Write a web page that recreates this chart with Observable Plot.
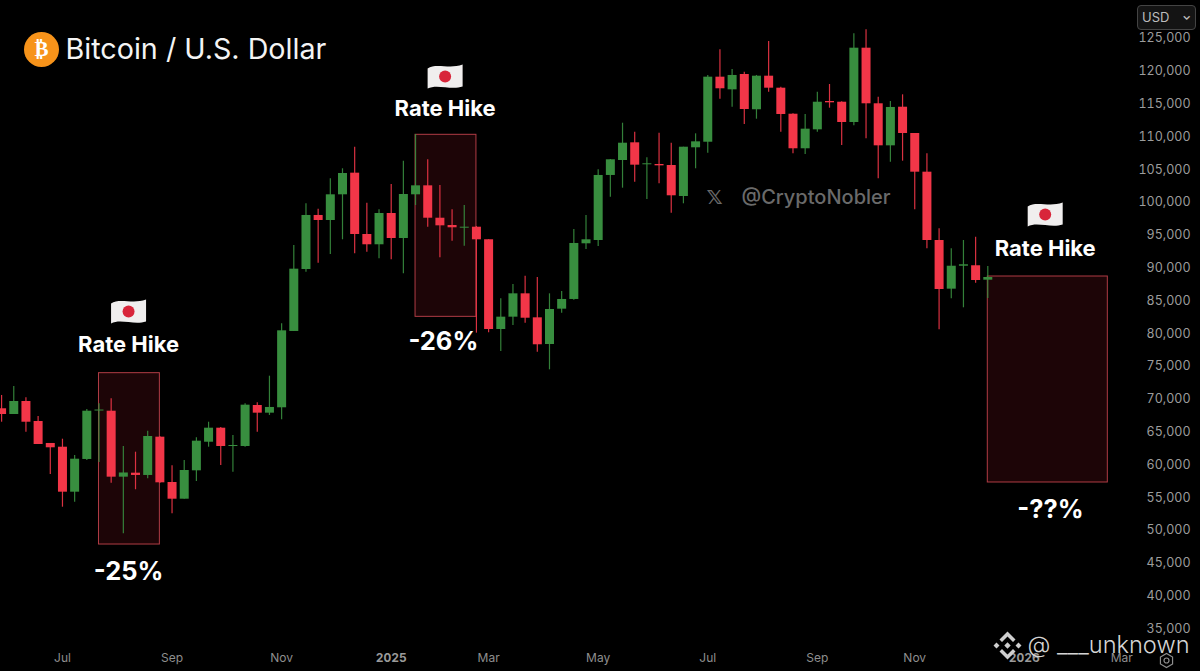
<!DOCTYPE html>
<html>
<head>
<meta charset="utf-8">
<script src="https://cdn.jsdelivr.net/npm/d3@7"></script>
<script src="https://cdn.jsdelivr.net/npm/@observablehq/plot@0.6"></script>
<style>
html,body{margin:0;padding:0;background:#000;overflow:hidden}
#wrap{position:relative;width:1200px;height:671px;background:#000}
#wrap svg{display:block;background:#000}
#usd{position:absolute;left:1137px;top:5px;width:59px;height:25px;box-sizing:border-box;background:#141414;border:1px solid #444;border-radius:4px;color:#bdbdbd;font:13px Inter,sans-serif;line-height:23px;padding-left:4px}
#usd span{position:absolute;right:4px;top:-1px;font-size:11px;font-weight:700}
</style>
</head>
<body>
<div id="wrap"><div id="usd">USD<span>⌄</span></div></div>
<script>
const openPrices = [68380,67510,69490,66440,63090,62520,55660,60650,68040,68010,57950,58560,58210,64050,57140,54590,58920,63280,65420,62630,62630,68880,67710,68530,80170,89620,97860,97090,101010,104310,94960,93390,98160,94350,101010,102380,97440,96330,95920,96070,94150,80470,82350,85910,82250,78180,83570,85050,93540,94040,103960,106240,108940,105590,105630,105480,100750,108180,109030,118950,117020,119360,113980,119100,117270,113300,108030,110920,115240,115130,112040,123370,114890,108480,114370,110360,104460,94040,86620,90120,90190,87990];
const closePrices = [67510,69490,66330,62930,62430,55660,60690,68010,68190,57950,58590,58210,64150,57090,54590,58970,63440,65420,62630,62780,68930,67710,68580,80270,89670,97860,97090,101010,104260,94960,93390,98160,94350,101060,102380,97440,96280,95980,96070,94150,80470,82350,85910,82190,78140,83520,85050,93590,94150,103960,106350,108880,105530,105740,105430,100860,108270,109090,118950,117180,119210,114020,119100,117270,113260,108030,111020,115130,115040,112040,123370,114890,108480,114330,110360,104460,94040,86570,90120,90340,87940,88400];
const highPrices = [70410,71780,70050,67200,63090,63740,61260,68270,69140,69900,62630,61760,64960,64150,59680,60490,63950,66330,65530,64310,69140,69290,73350,81340,93280,99640,98820,103450,104980,108270,99730,98730,102580,106140,110210,106350,102430,98730,99380,96180,94150,85150,87330,88600,88400,85910,86270,95720,97860,104820,106400,111930,110560,106650,110410,108880,108270,110310,119210,123120,120120,119710,119210,124390,117420,113360,113260,116660,117830,115190,125560,126170,115900,115240,116260,110360,107270,95830,92780,94040,94550,90080];
const lowPrices = [66330,67510,64810,62930,58360,53370,54130,60490,60190,57030,49320,56030,57700,56990,52360,54590,57290,62520,59730,58710,62520,64810,67360,66700,80170,89210,90580,91910,94150,92020,92260,91250,91100,88960,99380,96070,91410,93940,93170,79910,79970,77120,81080,81430,77010,74320,82960,84940,92670,93130,100650,102020,102930,100300,102690,98210,99640,104980,107360,115590,114370,111730,112540,116660,110560,107270,107160,110560,114220,108530,111530,109550,103450,105980,106140,98730,92780,80430,85150,83780,87530,85200];

const weeks = d3.utcMonday.range(new Date("2024-05-27"), new Date("2025-12-16"));
const candles = weeks.map((date, i) => ({date, open: openPrices[i], close: closePrices[i], high: highPrices[i], low: lowPrices[i]}));

const priceTicks = [35000,40000,45000,50000,55000,60000,65000,70000,75000,80000,85000,90000,95000,100000,105000,110000,115000,120000,125000];
const monthTicks = ["2024-07-01","2024-09-02","2024-11-04","2025-03-03","2025-05-05","2025-07-07","2025-09-08","2025-11-03","2026-03-02"].map(d => new Date(d));
const yearTicks = ["2025-01-06","2026-01-05"].map(d => new Date(d));

const hikeBoxes = [
  {x1: new Date("2024-07-22"), x2: new Date("2024-08-26"), top: 73810, bottom: 47680},
  {x1: new Date("2025-01-20"), x2: new Date("2025-02-24"), top: 110160, bottom: 82400},
  {x1: new Date("2025-12-15"), x2: new Date("2026-02-22"), top: 88550, bottom: 57140}
];
const hikeLabels = [
  {date: new Date("2024-08-08"), price: 78180},
  {date: new Date("2025-02-06"), price: 114170},
  {date: new Date("2026-01-17"), price: 92820}
];
const flags = [
  {date: new Date("2024-08-08"), price: 83215},
  {date: new Date("2025-02-06"), price: 119050},
  {date: new Date("2026-01-17"), price: 98010}
];
const drops = [
  {date: new Date("2024-08-08"), price: 43570, text: "-25%"},
  {date: new Date("2025-02-05"), price: 78640, text: "-26%"},
  {date: new Date("2026-01-20"), price: 53020, text: "-??%"}
];

const GREEN = "#388e3f", RED = "#f23648", FONT = "Inter, sans-serif";

const flagShape = {draw(c) {
  c.moveTo(-17.5, -8);
  c.bezierCurveTo(-9, -14, 4, -7, 17.5, -12);
  c.lineTo(17.5, 10);
  c.bezierCurveTo(6, 14, -8, 7, -17.5, 12);
  c.closePath();
}};
const binanceShape = {draw(c) {
  const d = (x, y, r) => { c.moveTo(x, y - r); c.lineTo(x + r, y); c.lineTo(x, y + r); c.lineTo(x - r, y); c.closePath(); };
  d(0, 0, 3.2); d(-11, 0, 3); d(11, 0, 3);
  const chev = (s) => {
    c.moveTo(0, s * 14); c.lineTo(s * 8, s * 6); c.lineTo(s * 5.5, s * 3.5); c.lineTo(0, s * 9); c.lineTo(-s * 5.5, s * 3.5); c.lineTo(-s * 8, s * 6); c.closePath();
  };
  chev(1); chev(-1);
}};
const hexShape = {draw(c) {
  const r = 7;
  for (let i = 0; i < 6; i++) {
    const a = Math.PI / 3 * i + Math.PI / 6 ;
    const x = r * Math.cos(a), y = r * Math.sin(a);
    i ? c.lineTo(x, y) : c.moveTo(x, y);
  }
  c.closePath();
  c.moveTo(2.5, 0); c.arc(0, 0, 2.5, 0, 2 * Math.PI);
}};

const isUp = d => d.close >= d.open;

const chart = Plot.plot({
  width: 1200, height: 671,
  marginTop: 0, marginLeft: 0, marginRight: 10, marginBottom: 30,
  style: {background: "#000", fontFamily: FONT, overflow: "hidden"},
  x: {type: "utc", domain: [new Date("2024-05-26T09:00Z"), new Date("2026-04-10T13:00Z")]},
  y: {domain: [32890, 130642]},
  marks: [
    Plot.rect(hikeBoxes, {x1: "x1", x2: "x2", y1: "bottom", y2: "top", fill: "#1d0507", stroke: "#b03c45", strokeWidth: 1}),
    Plot.ruleX(candles, {x: "date", y1: "low", y2: "high", stroke: d => isUp(d) ? GREEN : RED, strokeWidth: 1.2, strokeOpacity: 0.9}),
    Plot.ruleX(candles, {x: "date", y1: "open", y2: "close", stroke: d => isUp(d) ? GREEN : RED, strokeWidth: 9}),
    Plot.axisY({anchor: "right", ticks: priceTicks, tickSize: 0, tickPadding: 0, textAnchor: "end", tickFormat: d3.format(","), label: null, fill: "#9c9c9c", fontSize: 12.5, fontFamily: FONT, dy: 1}),
    Plot.axisX({anchor: "bottom", ticks: monthTicks, tickSize: 0, tickPadding: 12, tickFormat: d3.utcFormat("%b"), label: null, fill: "#8e8e8e", fontSize: 12, fontFamily: FONT}),
    Plot.axisX({anchor: "bottom", ticks: yearTicks, tickSize: 0, tickPadding: 12, tickFormat: d3.utcFormat("%Y"), label: null, fill: "#9a9a9a", fontSize: 12, fontWeight: 700, fontFamily: FONT}),
    Plot.dot(flags, {x: "date", y: "price", symbol: flagShape, fill: "#f0eeee", r: 5}),
    Plot.dot(flags, {x: "date", y: "price", r: 6, fill: "#d8253a"}),
    Plot.text(hikeLabels, {x: "date", y: "price", text: () => "Rate Hike", fill: "#fff", fontSize: 22, fontWeight: 700, fontFamily: FONT}),
    Plot.text(drops, {x: "date", y: "price", text: "text", fill: "#fff", fontSize: 25.5, fontWeight: 700, fontFamily: FONT}),
    Plot.dot([0], {frameAnchor: "top-left", dx: 41, dy: 49, r: 17.5, fill: "#f7931a"}),
    Plot.text(["₿"], {frameAnchor: "top-left", dx: 41, dy: 49, lineAnchor: "middle", textAnchor: "middle", fill: "#fff", fontSize: 21, fontWeight: 700, fontFamily: "DejaVu Sans"}),
    Plot.text(["Bitcoin / U.S. Dollar"], {frameAnchor: "top-left", dx: 65, dy: 49, lineAnchor: "middle", fill: "#f4f4f4", fontSize: 28.7, fontFamily: FONT, textAnchor: "start"}),
    Plot.text(["𝕏"], {frameAnchor: "top-left", dx: 714, dy: 197, lineAnchor: "middle", textAnchor: "middle", fill: "#6a6a6a", fontSize: 20, fontWeight: 700, fontFamily: "DejaVu Sans"}),
    Plot.text(["@CryptoNobler"], {frameAnchor: "top-left", dx: 741, dy: 197, lineAnchor: "middle", fill: "#6a6a6a", fontSize: 20, fontWeight: 500, fontFamily: FONT, textAnchor: "start"}),
    Plot.dot([0], {frameAnchor: "top-left", dx: 1007, dy: 645, symbol: binanceShape, fill: "#cfcfcf", r: 5}),
    Plot.text(["@ ___unknown"], {frameAnchor: "top-left", dx: 1027, dy: 645, lineAnchor: "middle", fill: "#d4d4d4", fontSize: 23.6, fontWeight: 300, fontFamily: FONT, textAnchor: "start"}),
    Plot.dot([0], {frameAnchor: "top-left", dx: 1166, dy: 660, symbol: hexShape, stroke: "#8e8e8e", fill: "none", strokeWidth: 1.2, r: 5})
  ]
});
document.getElementById("wrap").prepend(chart);
</script>
</body>
</html>
